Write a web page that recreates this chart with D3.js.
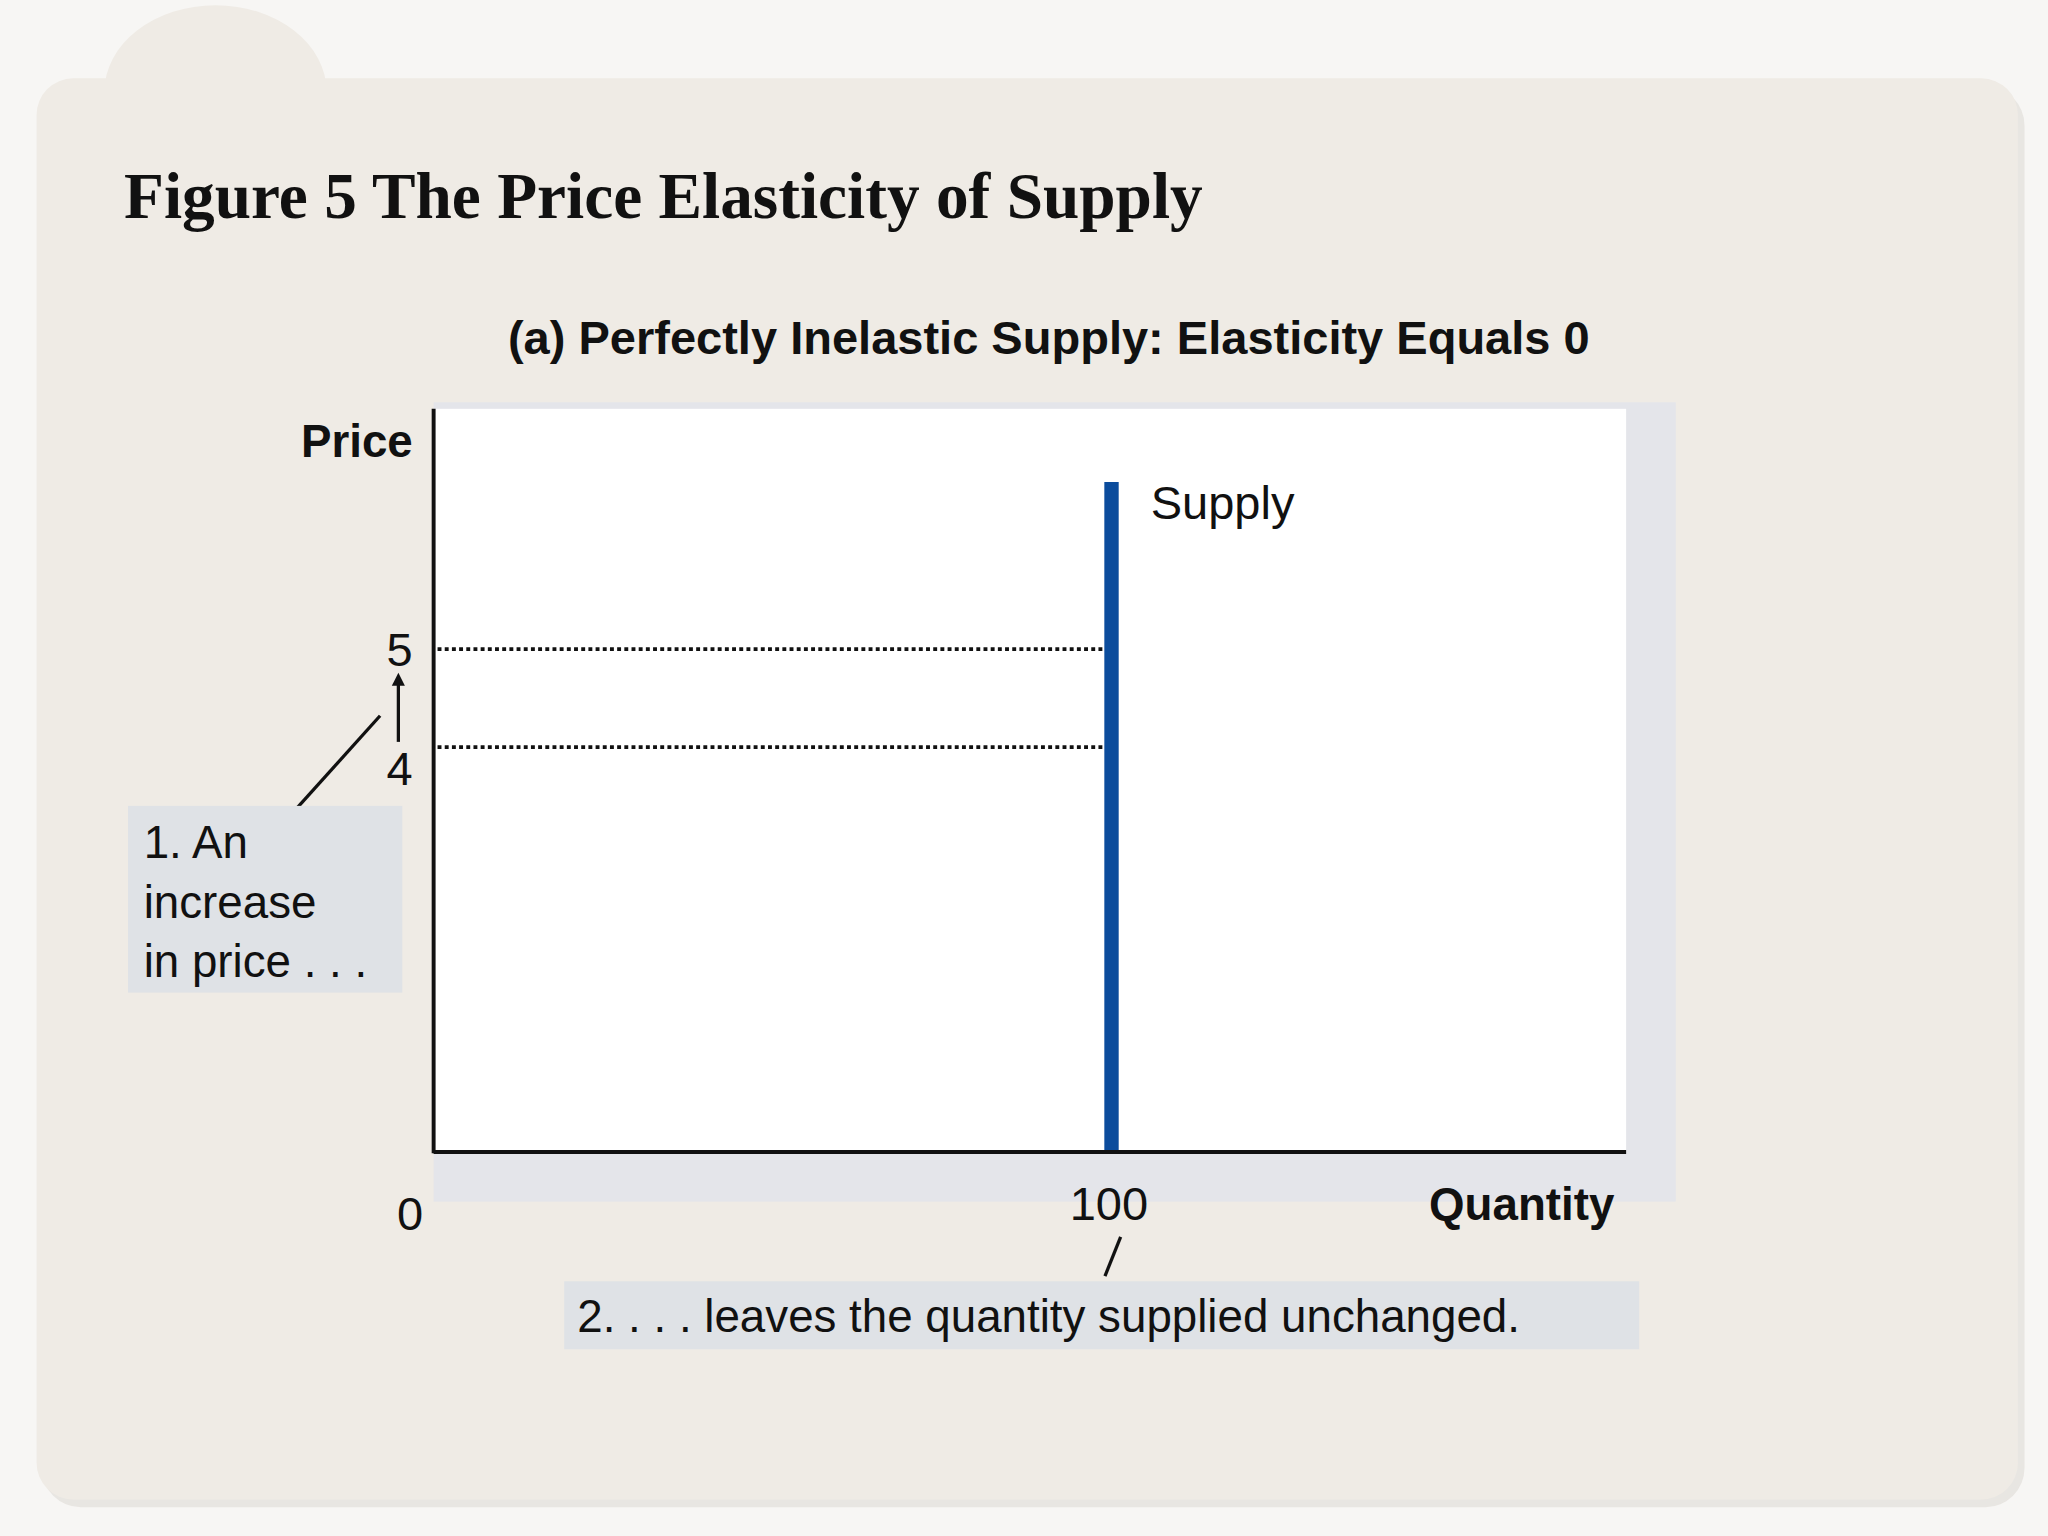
<!DOCTYPE html>
<html>
<head>
<meta charset="utf-8">
<script src="https://cdn.jsdelivr.net/npm/d3@7"></script>
<style>
  body { margin: 0; background: #f7f6f4; }
  svg { display: block; }
</style>
</head>
<body>
<svg id="chart" width="2048" height="1536" viewBox="0 0 1568 1176"></svg>
<script>
// data
const priceTicks = [4, 5];
const quantityTicks = [0, 100];
const supplyQuantity = 100;
const priceLevels = [4, 5];
const title = "Figure 5 The Price Elasticity of Supply";
const subtitle = "(a) Perfectly Inelastic Supply: Elasticity Equals 0";
const note1 = ["1. An", "increase", "in price . . ."];
const note2 = "2. . . . leaves the quantity supplied unchanged.";

const svg = d3.select("#chart");
const sans = "'Liberation Sans', Arial, sans-serif";

// card background
svg.append("rect").attr("x", 0).attr("y", 0).attr("width", 1568).attr("height", 1176).attr("fill", "#f7f6f4");
svg.append("rect").attr("x", 32).attr("y", 66).attr("width", 1518).attr("height", 1088).attr("rx", 30)
  .attr("fill", "#d9d6d0").attr("opacity", 0.5);
svg.append("ellipse").attr("cx", 165).attr("cy", 70).attr("rx", 85).attr("ry", 66).attr("fill", "#efebe5");
svg.append("rect").attr("x", 28).attr("y", 60).attr("width", 1517).attr("height", 1088).attr("rx", 28)
  .attr("fill", "#efebe5");

svg.append("text").attr("x", 95).attr("y", 167).text(title)
  .style("font-family", "'Liberation Serif', 'Times New Roman', serif")
  .style("font-weight", "bold").style("font-size", "50px").attr("fill", "#111");

svg.append("text").attr("x", 803).attr("y", 271).attr("text-anchor", "middle").text(subtitle)
  .style("font-family", sans).style("font-weight", "bold").style("font-size", "36px").attr("fill", "#111");

// plot frame
const pL = 332, pR = 1245, pT = 313, pB = 882;
svg.append("rect").attr("x", pL).attr("y", pT - 5).attr("width", 1283 - pL).attr("height", 920 - pT + 5).attr("fill", "#e4e5ea");
svg.append("rect").attr("x", pL).attr("y", pT).attr("width", pR - pL).attr("height", pB - pT).attr("fill", "#ffffff");

const x = d3.scaleLinear().domain([0, 100]).range([pL, 851]);
const y = d3.scaleLinear().domain([4, 5]).range([572, 497]);

// dotted price lines
svg.selectAll(".pl").data(priceLevels).enter().append("line")
  .attr("x1", pL + 3).attr("x2", x(supplyQuantity) - 6)
  .attr("y1", d => y(d)).attr("y2", d => y(d))
  .attr("stroke", "#111").attr("stroke-width", 3).attr("stroke-dasharray", "3,2.5");

// supply
svg.append("line").attr("x1", x(supplyQuantity)).attr("x2", x(supplyQuantity))
  .attr("y1", 369).attr("y2", pB).attr("stroke", "#0b4c9c").attr("stroke-width", 11);
svg.append("text").attr("x", x(supplyQuantity) + 30).attr("y", 397).text("Supply")
  .style("font-family", sans).style("font-size", "36px").attr("fill", "#111");

// axes
svg.append("line").attr("x1", pL).attr("x2", pL).attr("y1", pT).attr("y2", pB + 1).attr("stroke", "#111").attr("stroke-width", 3);
svg.append("line").attr("x1", pL).attr("x2", pR).attr("y1", pB).attr("y2", pB).attr("stroke", "#111").attr("stroke-width", 3);

svg.append("text").attr("x", 316).attr("y", 350).attr("text-anchor", "end").text("Price")
  .style("font-family", sans).style("font-weight", "bold").style("font-size", "35px").attr("fill", "#111");
svg.append("text").attr("x", 1236).attr("y", 934).attr("text-anchor", "end").text("Quantity")
  .style("font-family", sans).style("font-weight", "bold").style("font-size", "35px").attr("fill", "#111");

// tick labels
svg.selectAll(".yt").data(priceTicks).enter().append("text")
  .attr("x", 306).attr("y", d => d === 5 ? y(d) + 13 : y(d) + 29).attr("text-anchor", "middle").text(d => d)
  .style("font-family", sans).style("font-size", "36px").attr("fill", "#111");
svg.selectAll(".xt").data(quantityTicks).enter().append("text")
  .attr("x", d => d === 0 ? 314 : x(d) - 2).attr("y", d => d === 0 ? 942 : 934).attr("text-anchor", "middle").text(d => d)
  .style("font-family", sans).style("font-size", "36px").attr("fill", "#111");

// small arrow 4 -> 5
svg.append("line").attr("x1", 305).attr("x2", 305).attr("y1", 568).attr("y2", 522).attr("stroke", "#111").attr("stroke-width", 2.5);
svg.append("path").attr("d", "M300,525 L305,515 L310,525 Z").attr("fill", "#111");

// note 1
svg.append("line").attr("x1", 228).attr("y1", 618).attr("x2", 291).attr("y2", 548).attr("stroke", "#111").attr("stroke-width", 2.5);
svg.append("rect").attr("x", 98).attr("y", 617).attr("width", 210).attr("height", 143).attr("fill", "#dfe2e6");
svg.selectAll(".n1").data(note1).enter().append("text")
  .attr("x", 110).attr("y", (d, i) => 657 + i * 45.5).text(d => d)
  .style("font-family", sans).style("font-size", "35px").attr("fill", "#111");

// note 2
svg.append("line").attr("x1", 858).attr("y1", 947).attr("x2", 846).attr("y2", 977).attr("stroke", "#111").attr("stroke-width", 2.5);
svg.append("rect").attr("x", 432).attr("y", 981).attr("width", 823).attr("height", 52).attr("fill", "#dfe2e6");
svg.append("text").attr("x", 442).attr("y", 1020).text(note2)
  .style("font-family", sans).style("font-size", "35px").attr("fill", "#111");
</script>
</body>
</html>
